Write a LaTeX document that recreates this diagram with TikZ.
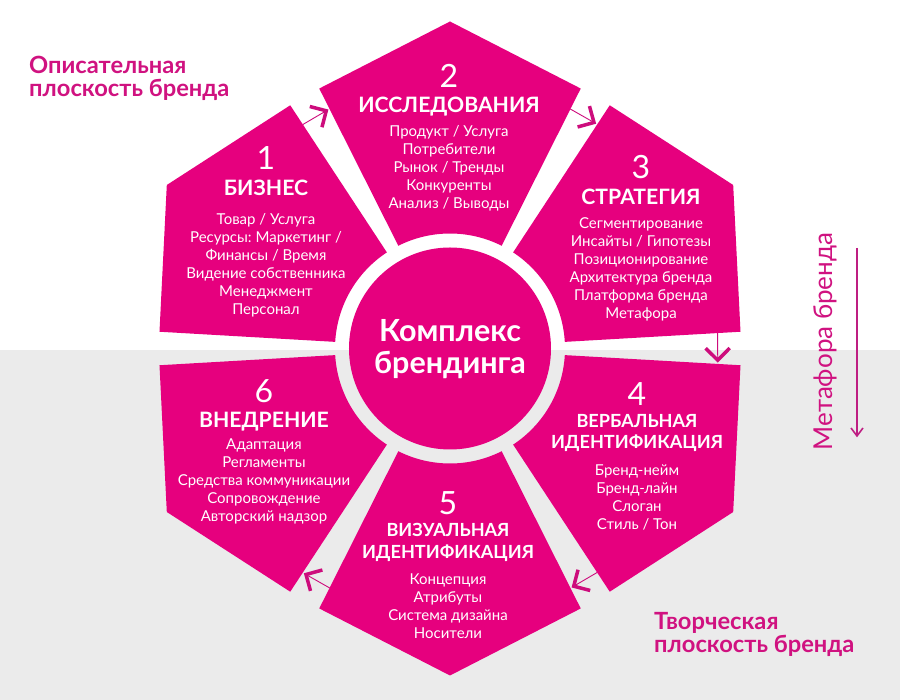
\documentclass[tikz,border=0pt]{standalone}
\usepackage{fontspec}
\setmainfont{Lato}
\usetikzlibrary{calc}
\frenchspacing
\definecolor{mag}{RGB}{230,0,126}
\definecolor{labmag}{RGB}{208,18,128}
\definecolor{arrmag}{RGB}{205,12,124}
\definecolor{linemag}{RGB}{190,30,130}
\definecolor{bggray}{RGB}{235,235,235}
\newcommand\bodylines[4]{%
  \foreach \lineitem [count=\i from 0] in {#4}{%
    \node[bodytxt] (#1-\i) at (#2,#3+18*\i) {\lineitem};}}
\begin{document}
\begin{tikzpicture}[x=1pt,y=1pt,
  numtxt/.style={text=white, font=\fontsize{32}{32}\selectfont, inner sep=0, anchor=base},
  ttl/.style={text=white, font=\bfseries\fontsize{21.2}{21.2}\selectfont, inner sep=0, anchor=base},
  ttlsm/.style={text=white, font=\bfseries\fontsize{18.1}{18.1}\selectfont, inner sep=0, anchor=base},
  bodytxt/.style={text=white, font=\fontsize{15}{15}\selectfont, inner sep=0, anchor=base},
  coretxt/.style={text=white, font=\bfseries\fontsize{30.5}{30.5}\selectfont, inner sep=0, anchor=base},
  lab/.style={text=labmag, font=\bfseries\fontsize{23.7}{23.7}\selectfont, inner sep=0, anchor=base west},
  chev/.style={draw=arrmag, line width=3.5pt},
  shaft/.style={draw=arrmag, line width=0.9pt}]
% background
\fill[white] (-450,-351.5) rectangle (450,348.5);
\fill[bggray] (-450,-351.5) rectangle (450,-1.5);
\useasboundingbox (-450,-351.5) rectangle (450,348.5);
% six pieces
\foreach \a [evaluate=\a as \lo using \a-26.7, evaluate=\a as \hi using \a+26.7] in {150,90,30,-30,-90,-150}{
  \fill[mag] (\lo:115) -- (\lo:291) -- (\a:327) -- (\hi:291) -- (\hi:115)
    arc[start angle=\hi, end angle=\lo, radius=115] -- cycle;
}
% centre circle
\node[circle, fill=mag, minimum size=202pt, inner sep=0] (core) at (0,0) {};
% arrows between pieces
\foreach \g/\nm in {120/a12,60/a23,0/a34,-60/a45,-120/a56}{
  \pgfmathsetmacro\gs{\g+3.3}
  \pgfmathsetmacro\gt{\g-2.5}
  \coordinate (\nm s) at (\gs:268);
  \coordinate (\nm t) at (\gt:268);
  \draw[shaft] (\nm s) -- (\nm t);
  \draw[chev] ($(\nm t)!17pt!45:(\nm s)$) -- (\nm t) -- ($(\nm t)!17pt!-45:(\nm s)$);
}
% texts in image coordinates
\begin{scope}[shift={(-450,348.5)}, yscale=-1]
  \node[coretxt] (core1) at (450,342) {Комплекс};
  \node[coretxt] (core2) at (450,374) {брендинга};
  % piece 1
  \node[numtxt] (n1) at (266,169.5) {1};
  \node[ttl] (t1) at (266,195.6) {БИЗНЕС};
  \bodylines{b1}{266}{224.8}{Товар / Услуга,Ресурсы: Маркетинг /,Финансы / Время,Видение собственника,Менеджмент,Персонал}
  % piece 2
  \node[numtxt] (n2) at (449,87.5) {2};
  \node[ttl] (t2) at (449,112.6) {ИССЛЕДОВАНИЯ};
  \bodylines{b2}{449}{136.8}{Продукт / Услуга,Потребители,Рынок / Тренды,Конкуренты,Анализ / Выводы}
  % piece 3
  \node[numtxt] (n3) at (641,178.5) {3};
  \node[ttl] (t3) at (641,204.6) {СТРАТЕГИЯ};
  \bodylines{b3}{641}{228.8}{Сегментирование,Инсайты / Гипотезы,Позиционирование,Архитектура бренда,Платформа бренда,Метафора}
  % piece 4
  \node[numtxt] (n4) at (637,405.5) {4};
  \node[ttlsm] (t4a) at (637,427.5) {ВЕРБАЛЬНАЯ};
  \node[ttlsm] (t4b) at (637,448.5) {ИДЕНТИФИКАЦИЯ};
  \bodylines{b4}{637}{475.8}{Бренд-нейм,Бренд-лайн,Слоган,Стиль / Тон}
  % piece 5
  \node[numtxt] (n5) at (448,514.5) {5};
  \node[ttlsm] (t5a) at (448,536.5) {ВИЗУАЛЬНАЯ};
  \node[ttlsm] (t5b) at (448,558.5) {ИДЕНТИФИКАЦИЯ};
  \bodylines{b5}{448}{584.8}{Концепция,Атрибуты,Система дизайна,Носители}
  % piece 6
  \node[numtxt] (n6) at (264,402.5) {6};
  \node[ttl] (t6) at (264,427.2) {ВНЕДРЕНИЕ};
  \bodylines{b6}{264}{449.8}{Адаптация,Регламенты,Средства коммуникации,Сопровождение,Авторский надзор}
  % side labels
  \node[lab] (d1) at (29,74) {Описательная};
  \node[lab] (d2) at (29,97) {плоскость бренда};
  \node[lab] (c1) at (654,630) {Творческая};
  \node[lab] (c2) at (654,653) {плоскость бренда};
  \node[text=labmag, font=\fontsize{26}{26}\selectfont, inner sep=0, anchor=base, rotate=90] (meta) at (832,341.5) {Метафора бренда};
  \coordinate (m1) at (857,248);
  \coordinate (m2) at (857,436);
  \draw[draw=linemag, line width=1.4pt] (m1) -- (m2);
  \draw[draw=linemag, line width=1.6pt] (851,428) -- (m2) -- (863,428);
\end{scope}
\end{tikzpicture}
\end{document}
